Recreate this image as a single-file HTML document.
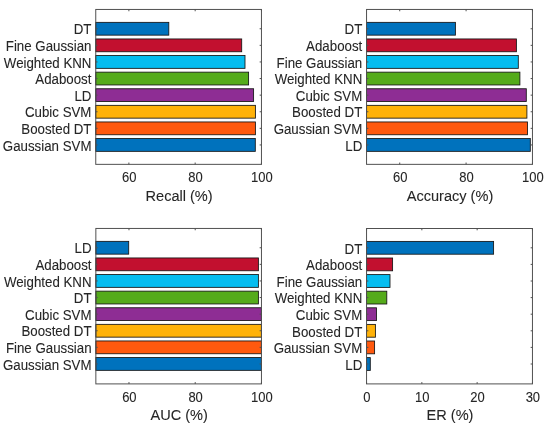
<!DOCTYPE html><html><head><meta charset="utf-8"><style>html,body{margin:0;padding:0;background:#fff;width:550px;height:427px;overflow:hidden}svg{display:block;will-change:transform}text{font-family:"Liberation Sans",sans-serif;fill:#262626;stroke:#262626;stroke-width:0.08px}</style></head><body>
<svg width="550" height="427" viewBox="0 0 550 427">
<rect x="0" y="0" width="550" height="427" fill="#fff"/>
<rect x="95.75" y="22.35" width="73.05" height="12.8" fill="#0072BD" stroke="#151515" stroke-width="0.85"/>
<rect x="95.75" y="38.95" width="145.95" height="12.8" fill="#C2102F" stroke="#151515" stroke-width="0.85"/>
<rect x="95.75" y="55.55" width="149.25" height="12.8" fill="#05BDF0" stroke="#151515" stroke-width="0.85"/>
<rect x="95.75" y="72.15" width="152.85" height="12.8" fill="#55AB1B" stroke="#151515" stroke-width="0.85"/>
<rect x="95.75" y="88.75" width="157.85" height="12.8" fill="#8E2D94" stroke="#151515" stroke-width="0.85"/>
<rect x="95.75" y="105.35" width="159.65" height="12.8" fill="#FFB209" stroke="#151515" stroke-width="0.85"/>
<rect x="95.75" y="121.95" width="159.65" height="12.8" fill="#FF590E" stroke="#151515" stroke-width="0.85"/>
<rect x="95.75" y="138.55" width="159.55" height="12.8" fill="#0072BD" stroke="#151515" stroke-width="0.85"/>
<rect x="95.75" y="9.45" width="165.7" height="154.9" fill="none" stroke="#505050" stroke-width="1"/>
<line x1="128.89" y1="164.35" x2="128.89" y2="162.55" stroke="#505050" stroke-width="1"/>
<line x1="128.89" y1="9.45" x2="128.89" y2="11.25" stroke="#505050" stroke-width="1"/>
<text transform="translate(129.29,182.25) scale(1,1.1)" font-size="13" text-anchor="middle">60</text>
<line x1="195.17" y1="164.35" x2="195.17" y2="162.55" stroke="#505050" stroke-width="1"/>
<line x1="195.17" y1="9.45" x2="195.17" y2="11.25" stroke="#505050" stroke-width="1"/>
<text transform="translate(195.57,182.25) scale(1,1.1)" font-size="13" text-anchor="middle">80</text>
<line x1="261.45" y1="164.35" x2="261.45" y2="162.55" stroke="#505050" stroke-width="1"/>
<line x1="261.45" y1="9.45" x2="261.45" y2="11.25" stroke="#505050" stroke-width="1"/>
<text transform="translate(261.85,182.25) scale(1,1.1)" font-size="13" text-anchor="middle">100</text>
<line x1="95.75" y1="28.75" x2="97.55" y2="28.75" stroke="#505050" stroke-width="1"/>
<line x1="261.45" y1="28.75" x2="259.65" y2="28.75" stroke="#505050" stroke-width="1"/>
<text transform="translate(91.45,34.45) scale(1,1.06)" font-size="13.3" text-anchor="end">DT</text>
<line x1="95.75" y1="45.35" x2="97.55" y2="45.35" stroke="#505050" stroke-width="1"/>
<line x1="261.45" y1="45.35" x2="259.65" y2="45.35" stroke="#505050" stroke-width="1"/>
<text transform="translate(91.45,51.05) scale(1,1.06)" font-size="13.3" text-anchor="end">Fine Gaussian</text>
<line x1="95.75" y1="61.95" x2="97.55" y2="61.95" stroke="#505050" stroke-width="1"/>
<line x1="261.45" y1="61.95" x2="259.65" y2="61.95" stroke="#505050" stroke-width="1"/>
<text transform="translate(91.45,67.65) scale(1,1.06)" font-size="13.3" text-anchor="end">Weighted KNN</text>
<line x1="95.75" y1="78.55" x2="97.55" y2="78.55" stroke="#505050" stroke-width="1"/>
<line x1="261.45" y1="78.55" x2="259.65" y2="78.55" stroke="#505050" stroke-width="1"/>
<text transform="translate(91.45,84.25) scale(1,1.06)" font-size="13.3" text-anchor="end">Adaboost</text>
<line x1="95.75" y1="95.15" x2="97.55" y2="95.15" stroke="#505050" stroke-width="1"/>
<line x1="261.45" y1="95.15" x2="259.65" y2="95.15" stroke="#505050" stroke-width="1"/>
<text transform="translate(91.45,100.85) scale(1,1.06)" font-size="13.3" text-anchor="end">LD</text>
<line x1="95.75" y1="111.75" x2="97.55" y2="111.75" stroke="#505050" stroke-width="1"/>
<line x1="261.45" y1="111.75" x2="259.65" y2="111.75" stroke="#505050" stroke-width="1"/>
<text transform="translate(91.45,117.45) scale(1,1.06)" font-size="13.3" text-anchor="end">Cubic SVM</text>
<line x1="95.75" y1="128.35" x2="97.55" y2="128.35" stroke="#505050" stroke-width="1"/>
<line x1="261.45" y1="128.35" x2="259.65" y2="128.35" stroke="#505050" stroke-width="1"/>
<text transform="translate(91.45,134.05) scale(1,1.06)" font-size="13.3" text-anchor="end">Boosted DT</text>
<line x1="95.75" y1="144.95" x2="97.55" y2="144.95" stroke="#505050" stroke-width="1"/>
<line x1="261.45" y1="144.95" x2="259.65" y2="144.95" stroke="#505050" stroke-width="1"/>
<text transform="translate(91.45,150.65) scale(1,1.06)" font-size="13.3" text-anchor="end">Gaussian SVM</text>
<text transform="translate(179.1,200.85) scale(1.04,1)" font-size="14" text-anchor="middle">Recall (%)</text>
<rect x="366.55" y="22.35" width="88.85" height="12.8" fill="#0072BD" stroke="#151515" stroke-width="0.85"/>
<rect x="366.55" y="38.95" width="149.85" height="12.8" fill="#C2102F" stroke="#151515" stroke-width="0.85"/>
<rect x="366.55" y="55.55" width="151.75" height="12.8" fill="#05BDF0" stroke="#151515" stroke-width="0.85"/>
<rect x="366.55" y="72.15" width="153.35" height="12.8" fill="#55AB1B" stroke="#151515" stroke-width="0.85"/>
<rect x="366.55" y="88.75" width="159.75" height="12.8" fill="#8E2D94" stroke="#151515" stroke-width="0.85"/>
<rect x="366.55" y="105.35" width="160.35" height="12.8" fill="#FFB209" stroke="#151515" stroke-width="0.85"/>
<rect x="366.55" y="121.95" width="160.95" height="12.8" fill="#FF590E" stroke="#151515" stroke-width="0.85"/>
<rect x="366.55" y="138.55" width="163.75" height="12.8" fill="#0072BD" stroke="#151515" stroke-width="0.85"/>
<rect x="366.55" y="9.45" width="165.9" height="154.9" fill="none" stroke="#505050" stroke-width="1"/>
<line x1="399.73" y1="164.35" x2="399.73" y2="162.55" stroke="#505050" stroke-width="1"/>
<line x1="399.73" y1="9.45" x2="399.73" y2="11.25" stroke="#505050" stroke-width="1"/>
<text transform="translate(400.13,182.25) scale(1,1.1)" font-size="13" text-anchor="middle">60</text>
<line x1="466.09" y1="164.35" x2="466.09" y2="162.55" stroke="#505050" stroke-width="1"/>
<line x1="466.09" y1="9.45" x2="466.09" y2="11.25" stroke="#505050" stroke-width="1"/>
<text transform="translate(466.49,182.25) scale(1,1.1)" font-size="13" text-anchor="middle">80</text>
<line x1="532.45" y1="164.35" x2="532.45" y2="162.55" stroke="#505050" stroke-width="1"/>
<line x1="532.45" y1="9.45" x2="532.45" y2="11.25" stroke="#505050" stroke-width="1"/>
<text transform="translate(532.85,182.25) scale(1,1.1)" font-size="13" text-anchor="middle">100</text>
<line x1="366.55" y1="28.75" x2="368.35" y2="28.75" stroke="#505050" stroke-width="1"/>
<line x1="532.45" y1="28.75" x2="530.65" y2="28.75" stroke="#505050" stroke-width="1"/>
<text transform="translate(362.25,34.45) scale(1,1.06)" font-size="13.3" text-anchor="end">DT</text>
<line x1="366.55" y1="45.35" x2="368.35" y2="45.35" stroke="#505050" stroke-width="1"/>
<line x1="532.45" y1="45.35" x2="530.65" y2="45.35" stroke="#505050" stroke-width="1"/>
<text transform="translate(362.25,51.05) scale(1,1.06)" font-size="13.3" text-anchor="end">Adaboost</text>
<line x1="366.55" y1="61.95" x2="368.35" y2="61.95" stroke="#505050" stroke-width="1"/>
<line x1="532.45" y1="61.95" x2="530.65" y2="61.95" stroke="#505050" stroke-width="1"/>
<text transform="translate(362.25,67.65) scale(1,1.06)" font-size="13.3" text-anchor="end">Fine Gaussian</text>
<line x1="366.55" y1="78.55" x2="368.35" y2="78.55" stroke="#505050" stroke-width="1"/>
<line x1="532.45" y1="78.55" x2="530.65" y2="78.55" stroke="#505050" stroke-width="1"/>
<text transform="translate(362.25,84.25) scale(1,1.06)" font-size="13.3" text-anchor="end">Weighted KNN</text>
<line x1="366.55" y1="95.15" x2="368.35" y2="95.15" stroke="#505050" stroke-width="1"/>
<line x1="532.45" y1="95.15" x2="530.65" y2="95.15" stroke="#505050" stroke-width="1"/>
<text transform="translate(362.25,100.85) scale(1,1.06)" font-size="13.3" text-anchor="end">Cubic SVM</text>
<line x1="366.55" y1="111.75" x2="368.35" y2="111.75" stroke="#505050" stroke-width="1"/>
<line x1="532.45" y1="111.75" x2="530.65" y2="111.75" stroke="#505050" stroke-width="1"/>
<text transform="translate(362.25,117.45) scale(1,1.06)" font-size="13.3" text-anchor="end">Boosted DT</text>
<line x1="366.55" y1="128.35" x2="368.35" y2="128.35" stroke="#505050" stroke-width="1"/>
<line x1="532.45" y1="128.35" x2="530.65" y2="128.35" stroke="#505050" stroke-width="1"/>
<text transform="translate(362.25,134.05) scale(1,1.06)" font-size="13.3" text-anchor="end">Gaussian SVM</text>
<line x1="366.55" y1="144.95" x2="368.35" y2="144.95" stroke="#505050" stroke-width="1"/>
<line x1="532.45" y1="144.95" x2="530.65" y2="144.95" stroke="#505050" stroke-width="1"/>
<text transform="translate(362.25,150.65) scale(1,1.06)" font-size="13.3" text-anchor="end">LD</text>
<text transform="translate(450,200.85) scale(1.04,1)" font-size="14" text-anchor="middle">Accuracy (%)</text>
<rect x="95.85" y="241.35" width="32.85" height="12.8" fill="#0072BD" stroke="#151515" stroke-width="0.85"/>
<rect x="95.85" y="257.95" width="162.55" height="12.8" fill="#C2102F" stroke="#151515" stroke-width="0.85"/>
<rect x="95.85" y="274.55" width="162.55" height="12.8" fill="#05BDF0" stroke="#151515" stroke-width="0.85"/>
<rect x="95.85" y="291.15" width="162.55" height="12.8" fill="#55AB1B" stroke="#151515" stroke-width="0.85"/>
<rect x="95.85" y="307.75" width="165.55" height="12.8" fill="#8E2D94" stroke="#151515" stroke-width="0.85"/>
<rect x="95.85" y="324.35" width="165.55" height="12.8" fill="#FFB209" stroke="#151515" stroke-width="0.85"/>
<rect x="95.85" y="340.95" width="165.55" height="12.8" fill="#FF590E" stroke="#151515" stroke-width="0.85"/>
<rect x="95.85" y="357.55" width="165.55" height="12.8" fill="#0072BD" stroke="#151515" stroke-width="0.85"/>
<rect x="95.85" y="228.45" width="165.6" height="155.45" fill="none" stroke="#505050" stroke-width="1"/>
<line x1="128.97" y1="383.9" x2="128.97" y2="382.1" stroke="#505050" stroke-width="1"/>
<line x1="128.97" y1="228.45" x2="128.97" y2="230.25" stroke="#505050" stroke-width="1"/>
<text transform="translate(129.37,401.8) scale(1,1.1)" font-size="13" text-anchor="middle">60</text>
<line x1="195.21" y1="383.9" x2="195.21" y2="382.1" stroke="#505050" stroke-width="1"/>
<line x1="195.21" y1="228.45" x2="195.21" y2="230.25" stroke="#505050" stroke-width="1"/>
<text transform="translate(195.61,401.8) scale(1,1.1)" font-size="13" text-anchor="middle">80</text>
<line x1="261.45" y1="383.9" x2="261.45" y2="382.1" stroke="#505050" stroke-width="1"/>
<line x1="261.45" y1="228.45" x2="261.45" y2="230.25" stroke="#505050" stroke-width="1"/>
<text transform="translate(261.85,401.8) scale(1,1.1)" font-size="13" text-anchor="middle">100</text>
<line x1="95.85" y1="247.75" x2="97.65" y2="247.75" stroke="#505050" stroke-width="1"/>
<line x1="261.45" y1="247.75" x2="259.65" y2="247.75" stroke="#505050" stroke-width="1"/>
<text transform="translate(91.55,253.45) scale(1,1.06)" font-size="13.3" text-anchor="end">LD</text>
<line x1="95.85" y1="264.35" x2="97.65" y2="264.35" stroke="#505050" stroke-width="1"/>
<line x1="261.45" y1="264.35" x2="259.65" y2="264.35" stroke="#505050" stroke-width="1"/>
<text transform="translate(91.55,270.05) scale(1,1.06)" font-size="13.3" text-anchor="end">Adaboost</text>
<line x1="95.85" y1="280.95" x2="97.65" y2="280.95" stroke="#505050" stroke-width="1"/>
<line x1="261.45" y1="280.95" x2="259.65" y2="280.95" stroke="#505050" stroke-width="1"/>
<text transform="translate(91.55,286.65) scale(1,1.06)" font-size="13.3" text-anchor="end">Weighted KNN</text>
<line x1="95.85" y1="297.55" x2="97.65" y2="297.55" stroke="#505050" stroke-width="1"/>
<line x1="261.45" y1="297.55" x2="259.65" y2="297.55" stroke="#505050" stroke-width="1"/>
<text transform="translate(91.55,303.25) scale(1,1.06)" font-size="13.3" text-anchor="end">DT</text>
<line x1="95.85" y1="314.15" x2="97.65" y2="314.15" stroke="#505050" stroke-width="1"/>
<line x1="261.45" y1="314.15" x2="259.65" y2="314.15" stroke="#505050" stroke-width="1"/>
<text transform="translate(91.55,319.85) scale(1,1.06)" font-size="13.3" text-anchor="end">Cubic SVM</text>
<line x1="95.85" y1="330.75" x2="97.65" y2="330.75" stroke="#505050" stroke-width="1"/>
<line x1="261.45" y1="330.75" x2="259.65" y2="330.75" stroke="#505050" stroke-width="1"/>
<text transform="translate(91.55,336.45) scale(1,1.06)" font-size="13.3" text-anchor="end">Boosted DT</text>
<line x1="95.85" y1="347.35" x2="97.65" y2="347.35" stroke="#505050" stroke-width="1"/>
<line x1="261.45" y1="347.35" x2="259.65" y2="347.35" stroke="#505050" stroke-width="1"/>
<text transform="translate(91.55,353.05) scale(1,1.06)" font-size="13.3" text-anchor="end">Fine Gaussian</text>
<line x1="95.85" y1="363.95" x2="97.65" y2="363.95" stroke="#505050" stroke-width="1"/>
<line x1="261.45" y1="363.95" x2="259.65" y2="363.95" stroke="#505050" stroke-width="1"/>
<text transform="translate(91.55,369.65) scale(1,1.06)" font-size="13.3" text-anchor="end">Gaussian SVM</text>
<text transform="translate(179.15,420.4) scale(1.04,1)" font-size="14" text-anchor="middle">AUC (%)</text>
<rect x="366.55" y="241.4" width="127.05" height="12.8" fill="#0072BD" stroke="#151515" stroke-width="0.85"/>
<rect x="366.55" y="258" width="26.05" height="12.8" fill="#C2102F" stroke="#151515" stroke-width="0.85"/>
<rect x="366.55" y="274.6" width="23.45" height="12.8" fill="#05BDF0" stroke="#151515" stroke-width="0.85"/>
<rect x="366.55" y="291.2" width="20.25" height="12.8" fill="#55AB1B" stroke="#151515" stroke-width="0.85"/>
<rect x="366.55" y="307.8" width="9.95" height="12.8" fill="#8E2D94" stroke="#151515" stroke-width="0.85"/>
<rect x="366.55" y="324.4" width="8.85" height="12.8" fill="#FFB209" stroke="#151515" stroke-width="0.85"/>
<rect x="366.55" y="341" width="8.05" height="12.8" fill="#FF590E" stroke="#151515" stroke-width="0.85"/>
<rect x="366.55" y="357.6" width="3.75" height="12.8" fill="#0072BD" stroke="#151515" stroke-width="0.85"/>
<rect x="366.55" y="228.5" width="165.9" height="155.4" fill="none" stroke="#505050" stroke-width="1"/>
<line x1="366.55" y1="383.9" x2="366.55" y2="382.1" stroke="#505050" stroke-width="1"/>
<line x1="366.55" y1="228.5" x2="366.55" y2="230.3" stroke="#505050" stroke-width="1"/>
<text transform="translate(366.95,401.8) scale(1,1.1)" font-size="13" text-anchor="middle">0</text>
<line x1="421.85" y1="383.9" x2="421.85" y2="382.1" stroke="#505050" stroke-width="1"/>
<line x1="421.85" y1="228.5" x2="421.85" y2="230.3" stroke="#505050" stroke-width="1"/>
<text transform="translate(422.25,401.8) scale(1,1.1)" font-size="13" text-anchor="middle">10</text>
<line x1="477.15" y1="383.9" x2="477.15" y2="382.1" stroke="#505050" stroke-width="1"/>
<line x1="477.15" y1="228.5" x2="477.15" y2="230.3" stroke="#505050" stroke-width="1"/>
<text transform="translate(477.55,401.8) scale(1,1.1)" font-size="13" text-anchor="middle">20</text>
<line x1="532.45" y1="383.9" x2="532.45" y2="382.1" stroke="#505050" stroke-width="1"/>
<line x1="532.45" y1="228.5" x2="532.45" y2="230.3" stroke="#505050" stroke-width="1"/>
<text transform="translate(532.85,401.8) scale(1,1.1)" font-size="13" text-anchor="middle">30</text>
<line x1="366.55" y1="247.8" x2="368.35" y2="247.8" stroke="#505050" stroke-width="1"/>
<line x1="532.45" y1="247.8" x2="530.65" y2="247.8" stroke="#505050" stroke-width="1"/>
<text transform="translate(362.25,253.5) scale(1,1.06)" font-size="13.3" text-anchor="end">DT</text>
<line x1="366.55" y1="264.4" x2="368.35" y2="264.4" stroke="#505050" stroke-width="1"/>
<line x1="532.45" y1="264.4" x2="530.65" y2="264.4" stroke="#505050" stroke-width="1"/>
<text transform="translate(362.25,270.1) scale(1,1.06)" font-size="13.3" text-anchor="end">Adaboost</text>
<line x1="366.55" y1="281" x2="368.35" y2="281" stroke="#505050" stroke-width="1"/>
<line x1="532.45" y1="281" x2="530.65" y2="281" stroke="#505050" stroke-width="1"/>
<text transform="translate(362.25,286.7) scale(1,1.06)" font-size="13.3" text-anchor="end">Fine Gaussian</text>
<line x1="366.55" y1="297.6" x2="368.35" y2="297.6" stroke="#505050" stroke-width="1"/>
<line x1="532.45" y1="297.6" x2="530.65" y2="297.6" stroke="#505050" stroke-width="1"/>
<text transform="translate(362.25,303.3) scale(1,1.06)" font-size="13.3" text-anchor="end">Weighted KNN</text>
<line x1="366.55" y1="314.2" x2="368.35" y2="314.2" stroke="#505050" stroke-width="1"/>
<line x1="532.45" y1="314.2" x2="530.65" y2="314.2" stroke="#505050" stroke-width="1"/>
<text transform="translate(362.25,319.9) scale(1,1.06)" font-size="13.3" text-anchor="end">Cubic SVM</text>
<line x1="366.55" y1="330.8" x2="368.35" y2="330.8" stroke="#505050" stroke-width="1"/>
<line x1="532.45" y1="330.8" x2="530.65" y2="330.8" stroke="#505050" stroke-width="1"/>
<text transform="translate(362.25,336.5) scale(1,1.06)" font-size="13.3" text-anchor="end">Boosted DT</text>
<line x1="366.55" y1="347.4" x2="368.35" y2="347.4" stroke="#505050" stroke-width="1"/>
<line x1="532.45" y1="347.4" x2="530.65" y2="347.4" stroke="#505050" stroke-width="1"/>
<text transform="translate(362.25,353.1) scale(1,1.06)" font-size="13.3" text-anchor="end">Gaussian SVM</text>
<line x1="366.55" y1="364" x2="368.35" y2="364" stroke="#505050" stroke-width="1"/>
<line x1="532.45" y1="364" x2="530.65" y2="364" stroke="#505050" stroke-width="1"/>
<text transform="translate(362.25,369.7) scale(1,1.06)" font-size="13.3" text-anchor="end">LD</text>
<text transform="translate(450,420.4) scale(1.04,1)" font-size="14" text-anchor="middle">ER (%)</text>
</svg></body></html>
